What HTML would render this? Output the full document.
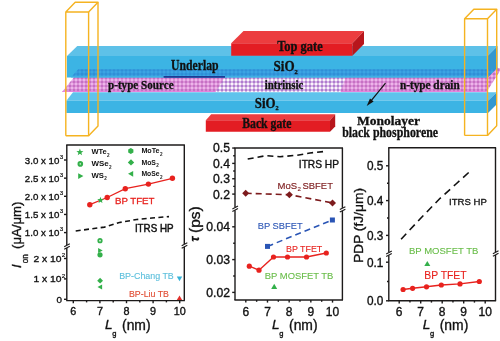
<!DOCTYPE html>
<html><head><meta charset="utf-8"><title>BP TFET figure</title>
<style>html,body{margin:0;padding:0;background:#fff;}svg{display:block;}</style>
</head><body>
<svg width="500" height="341" viewBox="0 0 500 341">
<rect width="500" height="341" fill="#fff"/>
<defs>
<pattern id="hp" width="4" height="4" patternUnits="userSpaceOnUse"><rect width="4" height="4" fill="#eeb4ea"/><polygon points="2,0 4,2 2,4 0,2" fill="#c76fc4"/></pattern>
<pattern id="hi" width="4" height="4" patternUnits="userSpaceOnUse"><rect width="4" height="4" fill="#fcf5fc"/><polygon points="2,0 4,2 2,4 0,2" fill="#b07ccf"/></pattern>
<pattern id="hb" width="4" height="4" patternUnits="userSpaceOnUse"><rect width="4" height="4" fill="#3ba4e3"/><polygon points="2,0 4,2 2,4 0,2" fill="#2f8fd7"/></pattern>
<pattern id="hbi" width="4" height="4" patternUnits="userSpaceOnUse"><rect width="4" height="4" fill="#52b9ea"/><polygon points="2,0 4,2 2,4 0,2" fill="#3ea3e2"/></pattern>
</defs>
<polygon points="66.4,100.8 73,92.3 497,92.3 488,100.8" fill="#5fc3ec" />
<polygon points="66.4,100.8 488,100.8 488,113 66.4,113" fill="#3cb4e4" />
<polygon points="488,100.8 497,92.3 497,104 488,113" fill="#3398d0" />
<polygon points="62,92 81.4,68 502,68 486.5,92" fill="url(#hp)" />
<polygon points="62,92 486.5,92 487.1,91 62.8,91" fill="#e77ad9" opacity="0.8"/>
<polygon points="230.5,68 349,68 340.5,92 215.5,92" fill="url(#hi)" />
<polygon points="67,56 77.3,46 497.5,46 487.6,56" fill="#5ec1e8" />
<polygon points="67,56 487.6,56 487.6,77.6 67,77.6" fill="#3cb4e4" />
<polygon points="487.6,56 497.5,46 497.5,67.6 487.6,77.6" fill="#3398d0" />
<polygon points="71.9,76.2 78.2,69.3 497.5,69.3 497.5,67.6 489,76.2" fill="url(#hb)" />
<polygon points="70.8,77.6 71.9,76.2 489,76.2 487.6,77.6" fill="#41afe4" />
<polygon points="231.2,43.2 243.5,31 364,31 352.4,43.2" fill="#ec3d3f" />
<polygon points="231.2,43.2 352.4,43.2 352.4,55.8 231.2,55.8" fill="#e31d23" />
<polygon points="352.4,43.2 364,31 364,44 352.4,55.8" fill="#b8161c" />
<polygon points="205.8,120.2 211.2,114.2 335.2,114.2 330,120.2" fill="#ec3d3f" />
<polygon points="205.8,120.2 330,120.2 330,131.8 205.8,131.8" fill="#e31d23" />
<polygon points="330,120.2 335.2,114.2 335.2,126.6 330,131.8" fill="#b8161c" />
<line x1="163.6" y1="76.8" x2="225" y2="76.8" stroke="#1d3a94" stroke-width="1.8"/>
<line x1="385.5" y1="83.2" x2="371" y2="100.9" stroke="#111" stroke-width="1.2"/>
<polygon points="366.7,106.1 373.6,101.4 370,98.4" fill="#111" />
<polyline points="65.8,135.7 65.8,12 75.2,2.3 98,2.3 88.6,12 65.8,12" fill="none" stroke="#f5b321" stroke-width="1.4" stroke-linejoin="round"/>
<polyline points="88.6,12 88.6,135.7 65.8,135.7" fill="none" stroke="#f5b321" stroke-width="1.4" stroke-linejoin="round"/>
<polyline points="98,2.3 98,126 88.6,135.7" fill="none" stroke="#f5b321" stroke-width="1.4" stroke-linejoin="round"/>
<polyline points="464.6,135.4 464.6,18.8 473.8,9.2 496.7,9.2 487.5,18.8 464.6,18.8" fill="none" stroke="#f5b321" stroke-width="1.4" stroke-linejoin="round"/>
<polyline points="487.5,18.8 487.5,135.4 464.6,135.4" fill="none" stroke="#f5b321" stroke-width="1.4" stroke-linejoin="round"/>
<polyline points="496.7,9.2 496.7,125.8 487.5,135.4" fill="none" stroke="#f5b321" stroke-width="1.4" stroke-linejoin="round"/>
<text transform="translate(277.2,51.1) scale(0.87,1)" font-family="'Liberation Serif', 'Times New Roman', serif" font-weight="bold" font-size="14.3" fill="#111" stroke="#111" stroke-width="0.3" >Top gate</text>
<text transform="translate(273.5,71.2) scale(0.94,1)" font-family="'Liberation Serif', 'Times New Roman', serif" font-weight="bold" font-size="13.9" fill="#111" stroke="#111" stroke-width="0.3" >SiO<tspan font-size="6.8" dy="2.3">2</tspan></text>
<text transform="translate(171,70.4) scale(0.84,1)" font-family="'Liberation Serif', 'Times New Roman', serif" font-weight="bold" font-size="14" fill="#111" stroke="#111" stroke-width="0.3" >Underlap</text>
<text transform="translate(108,89.2) scale(0.92,1)" font-family="'Liberation Serif', 'Times New Roman', serif" font-weight="bold" font-size="12.1" fill="#111" stroke="#111" stroke-width="0.3" >p-type Source</text>
<text transform="translate(264.8,89) scale(0.9,1)" font-family="'Liberation Serif', 'Times New Roman', serif" font-weight="bold" font-size="12" fill="#111" stroke="#111" stroke-width="0.3" >intrinsic</text>
<text transform="translate(399.9,88.7) scale(0.94,1)" font-family="'Liberation Serif', 'Times New Roman', serif" font-weight="bold" font-size="12" fill="#111" stroke="#111" stroke-width="0.3" >n-type drain</text>
<text transform="translate(254.8,107.8) scale(0.92,1)" font-family="'Liberation Serif', 'Times New Roman', serif" font-weight="bold" font-size="14" fill="#111" stroke="#111" stroke-width="0.3" >SiO<tspan font-size="6.8" dy="2.3">2</tspan></text>
<text transform="translate(242.2,128.2) scale(0.81,1)" font-family="'Liberation Serif', 'Times New Roman', serif" font-weight="bold" font-size="14.5" fill="#111" stroke="#111" stroke-width="0.3" >Back gate</text>
<text transform="translate(356.9,125.2) scale(1.09,1)" font-family="'Liberation Serif', 'Times New Roman', serif" font-weight="bold" font-size="12.4" fill="#111" stroke="#111" stroke-width="0.3" >Monolayer</text>
<text transform="translate(342.2,137.4) scale(0.82,1)" font-family="'Liberation Serif', 'Times New Roman', serif" font-weight="bold" font-size="14.5" fill="#111" stroke="#111" stroke-width="0.3" >black phosphorene</text>
<line x1="66.2" y1="145" x2="184.9" y2="145" stroke="#1c1a1a" stroke-width="1.4" />
<line x1="66.2" y1="300.6" x2="184.9" y2="300.6" stroke="#1c1a1a" stroke-width="1.4" />
<line x1="66.8" y1="145" x2="66.8" y2="300.6" stroke="#1c1a1a" stroke-width="1.4" />
<line x1="184.3" y1="145" x2="184.3" y2="300.6" stroke="#1c1a1a" stroke-width="1.4" />
<rect x="64.8" y="245" width="4" height="3" fill="#fff"/>
<line x1="64.2" y1="246.7" x2="69.8" y2="243.8" stroke="#1c1a1a" stroke-width="1.1" />
<line x1="64.2" y1="249.2" x2="69.8" y2="246.3" stroke="#1c1a1a" stroke-width="1.1" />
<rect x="182.3" y="244" width="4" height="3" fill="#fff"/>
<line x1="181.7" y1="245.7" x2="187.3" y2="242.8" stroke="#1c1a1a" stroke-width="1.1" />
<line x1="181.7" y1="248.2" x2="187.3" y2="245.3" stroke="#1c1a1a" stroke-width="1.1" />
<line x1="73.3" y1="300.6" x2="73.3" y2="303.2" stroke="#1c1a1a" stroke-width="1.4" />
<line x1="86.6" y1="300.6" x2="86.6" y2="302.4" stroke="#1c1a1a" stroke-width="1.4" />
<line x1="99.9" y1="300.6" x2="99.9" y2="303.2" stroke="#1c1a1a" stroke-width="1.4" />
<line x1="113.2" y1="300.6" x2="113.2" y2="302.4" stroke="#1c1a1a" stroke-width="1.4" />
<line x1="126.5" y1="300.6" x2="126.5" y2="303.2" stroke="#1c1a1a" stroke-width="1.4" />
<line x1="139.8" y1="300.6" x2="139.8" y2="302.4" stroke="#1c1a1a" stroke-width="1.4" />
<line x1="153.1" y1="300.6" x2="153.1" y2="303.2" stroke="#1c1a1a" stroke-width="1.4" />
<line x1="166.4" y1="300.6" x2="166.4" y2="302.4" stroke="#1c1a1a" stroke-width="1.4" />
<line x1="179.7" y1="300.6" x2="179.7" y2="303.2" stroke="#1c1a1a" stroke-width="1.4" />
<text x="73.3" y="314.6" font-family="'Liberation Sans', Arial, sans-serif" font-size="10.8" fill="#111" stroke="#111" stroke-width="0.35" text-anchor="middle" >6</text>
<text x="99.9" y="314.6" font-family="'Liberation Sans', Arial, sans-serif" font-size="10.8" fill="#111" stroke="#111" stroke-width="0.35" text-anchor="middle" >7</text>
<text x="126.5" y="314.6" font-family="'Liberation Sans', Arial, sans-serif" font-size="10.8" fill="#111" stroke="#111" stroke-width="0.35" text-anchor="middle" >8</text>
<text x="153.1" y="314.6" font-family="'Liberation Sans', Arial, sans-serif" font-size="10.8" fill="#111" stroke="#111" stroke-width="0.35" text-anchor="middle" >9</text>
<text x="179.7" y="314.6" font-family="'Liberation Sans', Arial, sans-serif" font-size="10.8" fill="#111" stroke="#111" stroke-width="0.35" text-anchor="middle" >10</text>
<line x1="64" y1="232.6" x2="66.8" y2="232.6" stroke="#1c1a1a" stroke-width="1.4" />
<text x="24.8" y="236.1" font-family="'Liberation Sans', Arial, sans-serif" font-size="9.8" fill="#111" stroke="#111" stroke-width="0.35" text-anchor="start" textLength="34.5" lengthAdjust="spacingAndGlyphs" >1.0 x 10</text>
<text x="59.8" y="231.4" font-family="'Liberation Sans', Arial, sans-serif" font-size="6.2" fill="#111" stroke="#111" stroke-width="0.2" text-anchor="start" >3</text>
<line x1="64" y1="214.45" x2="66.8" y2="214.45" stroke="#1c1a1a" stroke-width="1.4" />
<text x="24.8" y="217.95" font-family="'Liberation Sans', Arial, sans-serif" font-size="9.8" fill="#111" stroke="#111" stroke-width="0.35" text-anchor="start" textLength="34.5" lengthAdjust="spacingAndGlyphs" >1.5 x 10</text>
<text x="59.8" y="213.25" font-family="'Liberation Sans', Arial, sans-serif" font-size="6.2" fill="#111" stroke="#111" stroke-width="0.2" text-anchor="start" >3</text>
<line x1="64" y1="196.3" x2="66.8" y2="196.3" stroke="#1c1a1a" stroke-width="1.4" />
<text x="24.8" y="199.8" font-family="'Liberation Sans', Arial, sans-serif" font-size="9.8" fill="#111" stroke="#111" stroke-width="0.35" text-anchor="start" textLength="34.5" lengthAdjust="spacingAndGlyphs" >2.0 x 10</text>
<text x="59.8" y="195.1" font-family="'Liberation Sans', Arial, sans-serif" font-size="6.2" fill="#111" stroke="#111" stroke-width="0.2" text-anchor="start" >3</text>
<line x1="64" y1="178.15" x2="66.8" y2="178.15" stroke="#1c1a1a" stroke-width="1.4" />
<text x="24.8" y="181.65" font-family="'Liberation Sans', Arial, sans-serif" font-size="9.8" fill="#111" stroke="#111" stroke-width="0.35" text-anchor="start" textLength="34.5" lengthAdjust="spacingAndGlyphs" >2.5 x 10</text>
<text x="59.8" y="176.95" font-family="'Liberation Sans', Arial, sans-serif" font-size="6.2" fill="#111" stroke="#111" stroke-width="0.2" text-anchor="start" >3</text>
<line x1="64" y1="160" x2="66.8" y2="160" stroke="#1c1a1a" stroke-width="1.4" />
<text x="24.8" y="163.5" font-family="'Liberation Sans', Arial, sans-serif" font-size="9.8" fill="#111" stroke="#111" stroke-width="0.35" text-anchor="start" textLength="34.5" lengthAdjust="spacingAndGlyphs" >3.0 x 10</text>
<text x="59.8" y="158.8" font-family="'Liberation Sans', Arial, sans-serif" font-size="6.2" fill="#111" stroke="#111" stroke-width="0.2" text-anchor="start" >3</text>
<line x1="64" y1="299.3" x2="66.8" y2="299.3" stroke="#1c1a1a" stroke-width="1.4" />
<text x="56.6" y="302.8" font-family="'Liberation Sans', Arial, sans-serif" font-size="9.8" fill="#111" stroke="#111" stroke-width="0.35" text-anchor="start" >0</text>
<line x1="64" y1="278.9" x2="66.8" y2="278.9" stroke="#1c1a1a" stroke-width="1.4" />
<text x="33.4" y="282.4" font-family="'Liberation Sans', Arial, sans-serif" font-size="9.8" fill="#111" stroke="#111" stroke-width="0.35" text-anchor="start" textLength="28.1" lengthAdjust="spacingAndGlyphs" >1 x 10</text>
<text x="61.7" y="277.7" font-family="'Liberation Sans', Arial, sans-serif" font-size="6.2" fill="#111" stroke="#111" stroke-width="0.2" text-anchor="start" >2</text>
<line x1="64" y1="258.5" x2="66.8" y2="258.5" stroke="#1c1a1a" stroke-width="1.4" />
<text x="33.4" y="262" font-family="'Liberation Sans', Arial, sans-serif" font-size="9.8" fill="#111" stroke="#111" stroke-width="0.35" text-anchor="start" textLength="28.1" lengthAdjust="spacingAndGlyphs" >2 x 10</text>
<text x="61.7" y="257.3" font-family="'Liberation Sans', Arial, sans-serif" font-size="6.2" fill="#111" stroke="#111" stroke-width="0.2" text-anchor="start" >2</text>
<polyline points="75.7,231 90,229 104.5,227.1 119.4,222.5 136.7,219.5 152,218 169,216.6" fill="none" stroke="#111" stroke-width="1.6" stroke-dasharray="5,3.4"/>
<text x="134.9" y="232.2" font-family="'Liberation Sans', Arial, sans-serif" font-size="10.2" fill="#111" stroke="#111" stroke-width="0.45" text-anchor="start" textLength="38.6" lengthAdjust="spacingAndGlyphs" >ITRS HP</text>
<polyline points="89.8,204.7 107.2,197.5 125.3,188.7 148.4,184.1 172.4,178.3" fill="none" stroke="#e8221e" stroke-width="1.3" />
<circle cx="89.8" cy="204.7" r="2.7" fill="#e8221e"/>
<circle cx="107.2" cy="197.5" r="2.7" fill="#e8221e"/>
<circle cx="125.3" cy="188.7" r="2.7" fill="#e8221e"/>
<circle cx="148.4" cy="184.1" r="2.7" fill="#e8221e"/>
<circle cx="172.4" cy="178.3" r="2.7" fill="#e8221e"/>
<text x="115" y="204.2" font-family="'Liberation Sans', Arial, sans-serif" font-size="9.9" fill="#e8221e" stroke="#e8221e" stroke-width="0.3" text-anchor="start" textLength="39.5" lengthAdjust="spacingAndGlyphs" >BP TFET</text>
<polygon points="100.5,196.8 101.34,199.04 103.73,199.15 101.86,200.64 102.5,202.95 100.5,201.63 98.5,202.95 99.14,200.64 97.27,199.15 99.66,199.04" fill="#33b04a" />
<circle cx="100" cy="240.7" r="2.6" fill="#33b04a"/>
<circle cx="100" cy="240.7" r="0.9" fill="#dff3df"/>
<polygon points="98.1,247.9 98.1,252.9 102.7,250.4" fill="#33b04a" />
<circle cx="100" cy="254.8" r="2.6" fill="#33b04a"/>
<polygon points="100.1,277.8 103,280.7 100.1,283.6 97.2,280.7" fill="#33b04a" />
<polygon points="102.1,284.5 102.1,289.5 97.5,287" fill="#33b04a" />
<text x="119.2" y="278.9" font-family="'Liberation Sans', Arial, sans-serif" font-size="8.9" fill="#5bbfdc" stroke="#5bbfdc" stroke-width="0.1" text-anchor="start" textLength="54.6" lengthAdjust="spacingAndGlyphs" >BP-Chang TB</text>
<polygon points="176.8,276.6 182.2,276.6 179.5,281.2" fill="#35b2d8" />
<text x="129" y="297" font-family="'Liberation Sans', Arial, sans-serif" font-size="8.8" fill="#e04a30" stroke="#e04a30" stroke-width="0.1" text-anchor="start" textLength="39.9" lengthAdjust="spacingAndGlyphs" >BP-Liu TB</text>
<polygon points="176.8,300 182.2,300 179.5,295.6" fill="#e0302b" />
<polygon points="79.9,148.6 80.81,151.04 83.42,151.16 81.38,152.78 82.07,155.29 79.9,153.85 77.73,155.29 78.42,152.78 76.38,151.16 78.99,151.04" fill="#33b04a" />
<circle cx="80.3" cy="163.9" r="2.8" fill="#33b04a"/>
<circle cx="80.3" cy="163.9" r="0.8" fill="#cfeccf"/>
<polygon points="78.2,173.2 78.2,179 83.4,176.1" fill="#33b04a" />
<polygon points="133.4,152.4 130.8,153.9 128.2,152.4 128.2,149.4 130.8,147.9 133.4,149.4" fill="#33b04a" />
<polygon points="131,159.2 134.2,162.4 131,165.6 127.8,162.4" fill="#33b04a" />
<polygon points="133.2,170.9 133.2,176.7 128,173.8" fill="#33b04a" />
<text x="91.4" y="154.4" font-family="'Liberation Sans', Arial, sans-serif" font-size="7.4" fill="#111" stroke="#111" stroke-width="0" text-anchor="start" textLength="15.3" lengthAdjust="spacingAndGlyphs" font-weight="bold">WTe</text>
<text x="107" y="156.9" font-family="'Liberation Sans', Arial, sans-serif" font-size="4.6" font-weight="bold" fill="#222">2</text>
<text x="91.4" y="166" font-family="'Liberation Sans', Arial, sans-serif" font-size="7.4" fill="#111" stroke="#111" stroke-width="0" text-anchor="start" textLength="17.2" lengthAdjust="spacingAndGlyphs" font-weight="bold">WSe</text>
<text x="108.9" y="168.5" font-family="'Liberation Sans', Arial, sans-serif" font-size="4.6" font-weight="bold" fill="#222">2</text>
<text x="91.4" y="177.7" font-family="'Liberation Sans', Arial, sans-serif" font-size="7.4" fill="#111" stroke="#111" stroke-width="0" text-anchor="start" textLength="12.5" lengthAdjust="spacingAndGlyphs" font-weight="bold">WS</text>
<text x="104.2" y="180.2" font-family="'Liberation Sans', Arial, sans-serif" font-size="4.6" font-weight="bold" fill="#222">2</text>
<text x="141.4" y="153.4" font-family="'Liberation Sans', Arial, sans-serif" font-size="7.4" fill="#111" stroke="#111" stroke-width="0" text-anchor="start" textLength="18.2" lengthAdjust="spacingAndGlyphs" font-weight="bold">MoTe</text>
<text x="159.9" y="155.9" font-family="'Liberation Sans', Arial, sans-serif" font-size="4.6" font-weight="bold" fill="#222">2</text>
<text x="141.4" y="164.8" font-family="'Liberation Sans', Arial, sans-serif" font-size="7.4" fill="#111" stroke="#111" stroke-width="0" text-anchor="start" textLength="14.6" lengthAdjust="spacingAndGlyphs" font-weight="bold">MoS</text>
<text x="156.3" y="167.3" font-family="'Liberation Sans', Arial, sans-serif" font-size="4.6" font-weight="bold" fill="#222">2</text>
<text x="141.4" y="176.4" font-family="'Liberation Sans', Arial, sans-serif" font-size="7.4" fill="#111" stroke="#111" stroke-width="0" text-anchor="start" textLength="18.2" lengthAdjust="spacingAndGlyphs" font-weight="bold">MoSe</text>
<text x="159.9" y="178.9" font-family="'Liberation Sans', Arial, sans-serif" font-size="4.6" font-weight="bold" fill="#222">2</text>
<text transform="translate(21.4,268) rotate(-90)" font-family="'Liberation Sans', Arial, sans-serif" font-size="13.5" fill="#111" stroke="#111" stroke-width="0.35" font-style="italic">I</text>
<text transform="translate(27.6,263.2) rotate(-90)" font-family="'Liberation Sans', Arial, sans-serif" font-size="9" fill="#111" stroke="#111" stroke-width="0.35" textLength="9" lengthAdjust="spacingAndGlyphs" >on</text>
<text transform="translate(21.4,248.9) rotate(-90)" font-family="'Liberation Sans', Arial, sans-serif" font-size="13" fill="#111" stroke="#111" stroke-width="0.35" textLength="47.3" lengthAdjust="spacingAndGlyphs" >(μA/μm)</text>
<text x="105" y="329.3" font-family="'Liberation Sans', Arial, sans-serif" font-size="13.5" fill="#111" stroke="#111" stroke-width="0.35" text-anchor="start" font-style="italic">L</text>
<text x="112.2" y="336.2" font-family="'Liberation Sans', Arial, sans-serif" font-size="7.5" fill="#111" stroke="#111" stroke-width="0.35" text-anchor="start" >g</text>
<text x="122" y="330" font-family="'Liberation Sans', Arial, sans-serif" font-size="14" fill="#111" stroke="#111" stroke-width="0.35" text-anchor="start" textLength="28.6" lengthAdjust="spacingAndGlyphs" >(nm)</text>
<line x1="234.4" y1="148" x2="343" y2="148" stroke="#1c1a1a" stroke-width="1.4" />
<line x1="234.4" y1="300" x2="343" y2="300" stroke="#1c1a1a" stroke-width="1.4" />
<line x1="235" y1="148" x2="235" y2="300" stroke="#1c1a1a" stroke-width="1.4" />
<line x1="342.4" y1="148" x2="342.4" y2="300" stroke="#1c1a1a" stroke-width="1.4" />
<rect x="233" y="207.3" width="4" height="3" fill="#fff"/>
<line x1="232.4" y1="209" x2="238" y2="206.1" stroke="#1c1a1a" stroke-width="1.1" />
<line x1="232.4" y1="211.5" x2="238" y2="208.6" stroke="#1c1a1a" stroke-width="1.1" />
<rect x="340.4" y="207.9" width="4" height="3" fill="#fff"/>
<line x1="339.8" y1="209.6" x2="345.4" y2="206.7" stroke="#1c1a1a" stroke-width="1.1" />
<line x1="339.8" y1="212.1" x2="345.4" y2="209.2" stroke="#1c1a1a" stroke-width="1.1" />
<line x1="245.8" y1="300" x2="245.8" y2="302.6" stroke="#1c1a1a" stroke-width="1.4" />
<line x1="256.64" y1="300" x2="256.64" y2="301.8" stroke="#1c1a1a" stroke-width="1.4" />
<line x1="267.48" y1="300" x2="267.48" y2="302.6" stroke="#1c1a1a" stroke-width="1.4" />
<line x1="278.32" y1="300" x2="278.32" y2="301.8" stroke="#1c1a1a" stroke-width="1.4" />
<line x1="289.16" y1="300" x2="289.16" y2="302.6" stroke="#1c1a1a" stroke-width="1.4" />
<line x1="300" y1="300" x2="300" y2="301.8" stroke="#1c1a1a" stroke-width="1.4" />
<line x1="310.84" y1="300" x2="310.84" y2="302.6" stroke="#1c1a1a" stroke-width="1.4" />
<line x1="321.68" y1="300" x2="321.68" y2="301.8" stroke="#1c1a1a" stroke-width="1.4" />
<line x1="332.52" y1="300" x2="332.52" y2="302.6" stroke="#1c1a1a" stroke-width="1.4" />
<text x="245.8" y="315.6" font-family="'Liberation Sans', Arial, sans-serif" font-size="12" fill="#111" stroke="#111" stroke-width="0.35" text-anchor="middle" >6</text>
<text x="267.48" y="315.6" font-family="'Liberation Sans', Arial, sans-serif" font-size="12" fill="#111" stroke="#111" stroke-width="0.35" text-anchor="middle" >7</text>
<text x="289.16" y="315.6" font-family="'Liberation Sans', Arial, sans-serif" font-size="12" fill="#111" stroke="#111" stroke-width="0.35" text-anchor="middle" >8</text>
<text x="310.84" y="315.6" font-family="'Liberation Sans', Arial, sans-serif" font-size="12" fill="#111" stroke="#111" stroke-width="0.35" text-anchor="middle" >9</text>
<text x="332.52" y="315.6" font-family="'Liberation Sans', Arial, sans-serif" font-size="12" fill="#111" stroke="#111" stroke-width="0.35" text-anchor="middle" >10</text>
<line x1="232.2" y1="194.1" x2="235" y2="194.1" stroke="#1c1a1a" stroke-width="1.4" />
<line x1="233.2" y1="186.42" x2="235" y2="186.42" stroke="#1c1a1a" stroke-width="1.4" />
<line x1="232.2" y1="178.75" x2="235" y2="178.75" stroke="#1c1a1a" stroke-width="1.4" />
<line x1="233.2" y1="171.07" x2="235" y2="171.07" stroke="#1c1a1a" stroke-width="1.4" />
<line x1="232.2" y1="163.4" x2="235" y2="163.4" stroke="#1c1a1a" stroke-width="1.4" />
<line x1="233.2" y1="155.72" x2="235" y2="155.72" stroke="#1c1a1a" stroke-width="1.4" />
<line x1="232.2" y1="148.05" x2="235" y2="148.05" stroke="#1c1a1a" stroke-width="1.4" />
<text x="230" y="198.5" font-family="'Liberation Sans', Arial, sans-serif" font-size="12.2" fill="#111" stroke="#111" stroke-width="0.35" text-anchor="end" >0.2</text>
<text x="230" y="183.15" font-family="'Liberation Sans', Arial, sans-serif" font-size="12.2" fill="#111" stroke="#111" stroke-width="0.35" text-anchor="end" >0.3</text>
<text x="230" y="167.8" font-family="'Liberation Sans', Arial, sans-serif" font-size="12.2" fill="#111" stroke="#111" stroke-width="0.35" text-anchor="end" >0.4</text>
<text x="230" y="152.45" font-family="'Liberation Sans', Arial, sans-serif" font-size="12.2" fill="#111" stroke="#111" stroke-width="0.35" text-anchor="end" >0.5</text>
<line x1="232.2" y1="292.4" x2="235" y2="292.4" stroke="#1c1a1a" stroke-width="1.4" />
<line x1="233.2" y1="276" x2="235" y2="276" stroke="#1c1a1a" stroke-width="1.4" />
<line x1="232.2" y1="259.6" x2="235" y2="259.6" stroke="#1c1a1a" stroke-width="1.4" />
<line x1="233.2" y1="243.2" x2="235" y2="243.2" stroke="#1c1a1a" stroke-width="1.4" />
<line x1="232.2" y1="226.8" x2="235" y2="226.8" stroke="#1c1a1a" stroke-width="1.4" />
<text x="230" y="296.8" font-family="'Liberation Sans', Arial, sans-serif" font-size="12.2" fill="#111" stroke="#111" stroke-width="0.35" text-anchor="end" >0.02</text>
<text x="230" y="264" font-family="'Liberation Sans', Arial, sans-serif" font-size="12.2" fill="#111" stroke="#111" stroke-width="0.35" text-anchor="end" >0.03</text>
<text x="230" y="231.2" font-family="'Liberation Sans', Arial, sans-serif" font-size="12.2" fill="#111" stroke="#111" stroke-width="0.35" text-anchor="end" >0.04</text>
<polyline points="247.7,159 265.8,155.7 280,156.7 296.6,155.3 310,153 324,151.5" fill="none" stroke="#111" stroke-width="1.6" stroke-dasharray="6,4"/>
<text x="298.8" y="167.5" font-family="'Liberation Sans', Arial, sans-serif" font-size="10.2" fill="#111" stroke="#111" stroke-width="0.35" text-anchor="start" textLength="40.2" lengthAdjust="spacingAndGlyphs" >ITRS HP</text>
<polyline points="245.7,193.3 289.4,194.7 332.5,202.9" fill="none" stroke="#7d1b1d" stroke-width="1.6" stroke-dasharray="6,4"/>
<polygon points="245.7,189.8 249.2,193.3 245.7,196.8 242.2,193.3" fill="#7d1b1d" />
<polygon points="289.4,191.2 292.9,194.7 289.4,198.2 285.9,194.7" fill="#7d1b1d" />
<polygon points="332.5,199.4 336,202.9 332.5,206.4 329,202.9" fill="#7d1b1d" />
<text x="277.6" y="188.6" font-family="'Liberation Sans', Arial, sans-serif" font-size="9.6" fill="#7d1b1d" stroke="#7d1b1d" stroke-width="0.15" text-anchor="start" textLength="19.6" lengthAdjust="spacingAndGlyphs" >MoS</text>
<text x="297.5" y="191" font-family="'Liberation Sans', Arial, sans-serif" font-size="6.2" fill="#7d1b1d" stroke="#7d1b1d" stroke-width="0.1" text-anchor="start" >2</text>
<text x="302.5" y="188.6" font-family="'Liberation Sans', Arial, sans-serif" font-size="9.6" fill="#7d1b1d" stroke="#7d1b1d" stroke-width="0.15" text-anchor="start" textLength="30.4" lengthAdjust="spacingAndGlyphs" >SBFET</text>
<polyline points="267.5,246.4 332.4,220" fill="none" stroke="#2a55b5" stroke-width="1.6" stroke-dasharray="6,4"/>
<rect x="265" y="243.9" width="5" height="5" fill="#2a55b5"/>
<rect x="329.9" y="217.5" width="5" height="5" fill="#2a55b5"/>
<text x="257.7" y="229" font-family="'Liberation Sans', Arial, sans-serif" font-size="9.6" fill="#2a55b5" stroke="#2a55b5" stroke-width="0.1" text-anchor="start" textLength="44.9" lengthAdjust="spacingAndGlyphs" >BP SBFET</text>
<polyline points="249.3,266.2 259,270.2 273.5,257 287.5,257 306.5,257 326.3,253" fill="none" stroke="#e8221e" stroke-width="1.4" />
<circle cx="249.3" cy="266.2" r="2.6" fill="#e8221e"/>
<circle cx="259" cy="270.2" r="2.6" fill="#e8221e"/>
<circle cx="273.5" cy="257" r="2.6" fill="#e8221e"/>
<circle cx="287.5" cy="257" r="2.6" fill="#e8221e"/>
<circle cx="306.5" cy="257" r="2.6" fill="#e8221e"/>
<circle cx="326.3" cy="253" r="2.6" fill="#e8221e"/>
<text x="286" y="252.2" font-family="'Liberation Sans', Arial, sans-serif" font-size="9.4" fill="#e8221e" stroke="#e8221e" stroke-width="0.1" text-anchor="start" textLength="36.3" lengthAdjust="spacingAndGlyphs" >BP TFET</text>
<text x="264.8" y="279.1" font-family="'Liberation Sans', Arial, sans-serif" font-size="9.4" fill="#68bd48" stroke="#68bd48" stroke-width="0.1" text-anchor="start" textLength="68.6" lengthAdjust="spacingAndGlyphs" >BP MOSFET TB</text>
<polygon points="271.2,289 277.2,289 274.2,283.8" fill="#33b04a" />
<text transform="translate(198.8,241.4) rotate(-90)" font-family="'Liberation Sans', Arial, sans-serif" font-size="12" fill="#111" stroke="#111" stroke-width="0.35" font-style="italic" font-weight="bold">τ</text>
<text transform="translate(200,233) rotate(-90)" font-family="'Liberation Sans', Arial, sans-serif" font-size="14" fill="#111" stroke="#111" stroke-width="0.35" textLength="26.6" lengthAdjust="spacingAndGlyphs" >(ps)</text>
<text x="272" y="329.3" font-family="'Liberation Sans', Arial, sans-serif" font-size="13.5" fill="#111" stroke="#111" stroke-width="0.35" text-anchor="start" font-style="italic">L</text>
<text x="279.2" y="336.2" font-family="'Liberation Sans', Arial, sans-serif" font-size="7.5" fill="#111" stroke="#111" stroke-width="0.35" text-anchor="start" >g</text>
<text x="289" y="330" font-family="'Liberation Sans', Arial, sans-serif" font-size="14" fill="#111" stroke="#111" stroke-width="0.35" text-anchor="start" textLength="28.6" lengthAdjust="spacingAndGlyphs" >(nm)</text>
<line x1="388.2" y1="147.8" x2="496.1" y2="147.8" stroke="#1c1a1a" stroke-width="1.4" />
<line x1="388.2" y1="300.8" x2="496.1" y2="300.8" stroke="#1c1a1a" stroke-width="1.4" />
<line x1="388.8" y1="147.8" x2="388.8" y2="300.8" stroke="#1c1a1a" stroke-width="1.4" />
<line x1="495.5" y1="147.8" x2="495.5" y2="300.8" stroke="#1c1a1a" stroke-width="1.4" />
<rect x="386.8" y="252.3" width="4" height="3" fill="#fff"/>
<line x1="386.2" y1="254" x2="391.8" y2="251.1" stroke="#1c1a1a" stroke-width="1.1" />
<line x1="386.2" y1="256.5" x2="391.8" y2="253.6" stroke="#1c1a1a" stroke-width="1.1" />
<rect x="493.5" y="252" width="4" height="3" fill="#fff"/>
<line x1="492.9" y1="253.7" x2="498.5" y2="250.8" stroke="#1c1a1a" stroke-width="1.1" />
<line x1="492.9" y1="256.2" x2="498.5" y2="253.3" stroke="#1c1a1a" stroke-width="1.1" />
<line x1="399.2" y1="300.8" x2="399.2" y2="303.4" stroke="#1c1a1a" stroke-width="1.4" />
<line x1="409.95" y1="300.8" x2="409.95" y2="302.6" stroke="#1c1a1a" stroke-width="1.4" />
<line x1="420.7" y1="300.8" x2="420.7" y2="303.4" stroke="#1c1a1a" stroke-width="1.4" />
<line x1="431.45" y1="300.8" x2="431.45" y2="302.6" stroke="#1c1a1a" stroke-width="1.4" />
<line x1="442.2" y1="300.8" x2="442.2" y2="303.4" stroke="#1c1a1a" stroke-width="1.4" />
<line x1="452.95" y1="300.8" x2="452.95" y2="302.6" stroke="#1c1a1a" stroke-width="1.4" />
<line x1="463.7" y1="300.8" x2="463.7" y2="303.4" stroke="#1c1a1a" stroke-width="1.4" />
<line x1="474.45" y1="300.8" x2="474.45" y2="302.6" stroke="#1c1a1a" stroke-width="1.4" />
<line x1="485.2" y1="300.8" x2="485.2" y2="303.4" stroke="#1c1a1a" stroke-width="1.4" />
<text x="399.2" y="316.2" font-family="'Liberation Sans', Arial, sans-serif" font-size="12" fill="#111" stroke="#111" stroke-width="0.35" text-anchor="middle" >6</text>
<text x="420.7" y="316.2" font-family="'Liberation Sans', Arial, sans-serif" font-size="12" fill="#111" stroke="#111" stroke-width="0.35" text-anchor="middle" >7</text>
<text x="442.2" y="316.2" font-family="'Liberation Sans', Arial, sans-serif" font-size="12" fill="#111" stroke="#111" stroke-width="0.35" text-anchor="middle" >8</text>
<text x="463.7" y="316.2" font-family="'Liberation Sans', Arial, sans-serif" font-size="12" fill="#111" stroke="#111" stroke-width="0.35" text-anchor="middle" >9</text>
<text x="485.2" y="316.2" font-family="'Liberation Sans', Arial, sans-serif" font-size="12" fill="#111" stroke="#111" stroke-width="0.35" text-anchor="middle" >10</text>
<line x1="386" y1="235.4" x2="388.8" y2="235.4" stroke="#1c1a1a" stroke-width="1.4" />
<line x1="387" y1="218" x2="388.8" y2="218" stroke="#1c1a1a" stroke-width="1.4" />
<line x1="386" y1="200.6" x2="388.8" y2="200.6" stroke="#1c1a1a" stroke-width="1.4" />
<line x1="387" y1="183.2" x2="388.8" y2="183.2" stroke="#1c1a1a" stroke-width="1.4" />
<line x1="386" y1="165.8" x2="388.8" y2="165.8" stroke="#1c1a1a" stroke-width="1.4" />
<text x="383.3" y="239.8" font-family="'Liberation Sans', Arial, sans-serif" font-size="12" fill="#111" stroke="#111" stroke-width="0.35" text-anchor="end" textLength="16.4" lengthAdjust="spacingAndGlyphs" >0.3</text>
<text x="383.3" y="205" font-family="'Liberation Sans', Arial, sans-serif" font-size="12" fill="#111" stroke="#111" stroke-width="0.35" text-anchor="end" textLength="16.4" lengthAdjust="spacingAndGlyphs" >0.4</text>
<text x="383.3" y="170.2" font-family="'Liberation Sans', Arial, sans-serif" font-size="12" fill="#111" stroke="#111" stroke-width="0.35" text-anchor="end" textLength="16.4" lengthAdjust="spacingAndGlyphs" >0.5</text>
<line x1="386" y1="300.8" x2="388.8" y2="300.8" stroke="#1c1a1a" stroke-width="1.4" />
<line x1="387" y1="281.5" x2="388.8" y2="281.5" stroke="#1c1a1a" stroke-width="1.4" />
<line x1="386" y1="262.2" x2="388.8" y2="262.2" stroke="#1c1a1a" stroke-width="1.4" />
<text x="383.3" y="305.2" font-family="'Liberation Sans', Arial, sans-serif" font-size="12" fill="#111" stroke="#111" stroke-width="0.35" text-anchor="end" textLength="16.4" lengthAdjust="spacingAndGlyphs" >0.0</text>
<text x="383.3" y="266.6" font-family="'Liberation Sans', Arial, sans-serif" font-size="12" fill="#111" stroke="#111" stroke-width="0.35" text-anchor="end" textLength="16.4" lengthAdjust="spacingAndGlyphs" >0.1</text>
<polyline points="401.1,239.2 420,219 440.1,198.3 456,184 472.3,169.2" fill="none" stroke="#111" stroke-width="1.6" stroke-dasharray="7.5,5"/>
<text x="449" y="204.5" font-family="'Liberation Sans', Arial, sans-serif" font-size="9.6" fill="#111" stroke="#111" stroke-width="0.3" text-anchor="start" textLength="37.8" lengthAdjust="spacingAndGlyphs" >ITRS HP</text>
<text x="409" y="254.4" font-family="'Liberation Sans', Arial, sans-serif" font-size="9.2" fill="#68bd48" stroke="#68bd48" stroke-width="0.1" text-anchor="start" textLength="69.3" lengthAdjust="spacingAndGlyphs" >BP MOSFET TB</text>
<polygon points="424.3,266.1 430.3,266.1 427.3,261.1" fill="#33b04a" />
<text x="424.3" y="278.7" font-family="'Liberation Sans', Arial, sans-serif" font-size="10.2" fill="#e8221e" stroke="#e8221e" stroke-width="0.1" text-anchor="start" textLength="42.3" lengthAdjust="spacingAndGlyphs" >BP TFET</text>
<polyline points="403.1,289.5 412.6,288.3 426.5,286.8 441.3,285 460,283.9 479.3,281.5" fill="none" stroke="#e8221e" stroke-width="1.4" />
<circle cx="403.1" cy="289.5" r="2.6" fill="#e8221e"/>
<circle cx="412.6" cy="288.3" r="2.6" fill="#e8221e"/>
<circle cx="426.5" cy="286.8" r="2.6" fill="#e8221e"/>
<circle cx="441.3" cy="285" r="2.6" fill="#e8221e"/>
<circle cx="460" cy="283.9" r="2.6" fill="#e8221e"/>
<circle cx="479.3" cy="281.5" r="2.6" fill="#e8221e"/>
<text transform="translate(363.4,263.1) rotate(-90)" font-family="'Liberation Sans', Arial, sans-serif" font-size="13" fill="#111" stroke="#111" stroke-width="0.35" textLength="75.2" lengthAdjust="spacingAndGlyphs" >PDP (fJ/μm)</text>
<text x="422.7" y="329.3" font-family="'Liberation Sans', Arial, sans-serif" font-size="13.5" fill="#111" stroke="#111" stroke-width="0.35" text-anchor="start" font-style="italic">L</text>
<text x="429.9" y="336.2" font-family="'Liberation Sans', Arial, sans-serif" font-size="7.5" fill="#111" stroke="#111" stroke-width="0.35" text-anchor="start" >g</text>
<text x="439.7" y="330" font-family="'Liberation Sans', Arial, sans-serif" font-size="14" fill="#111" stroke="#111" stroke-width="0.35" text-anchor="start" textLength="28.6" lengthAdjust="spacingAndGlyphs" >(nm)</text>
</svg>
</body></html>
